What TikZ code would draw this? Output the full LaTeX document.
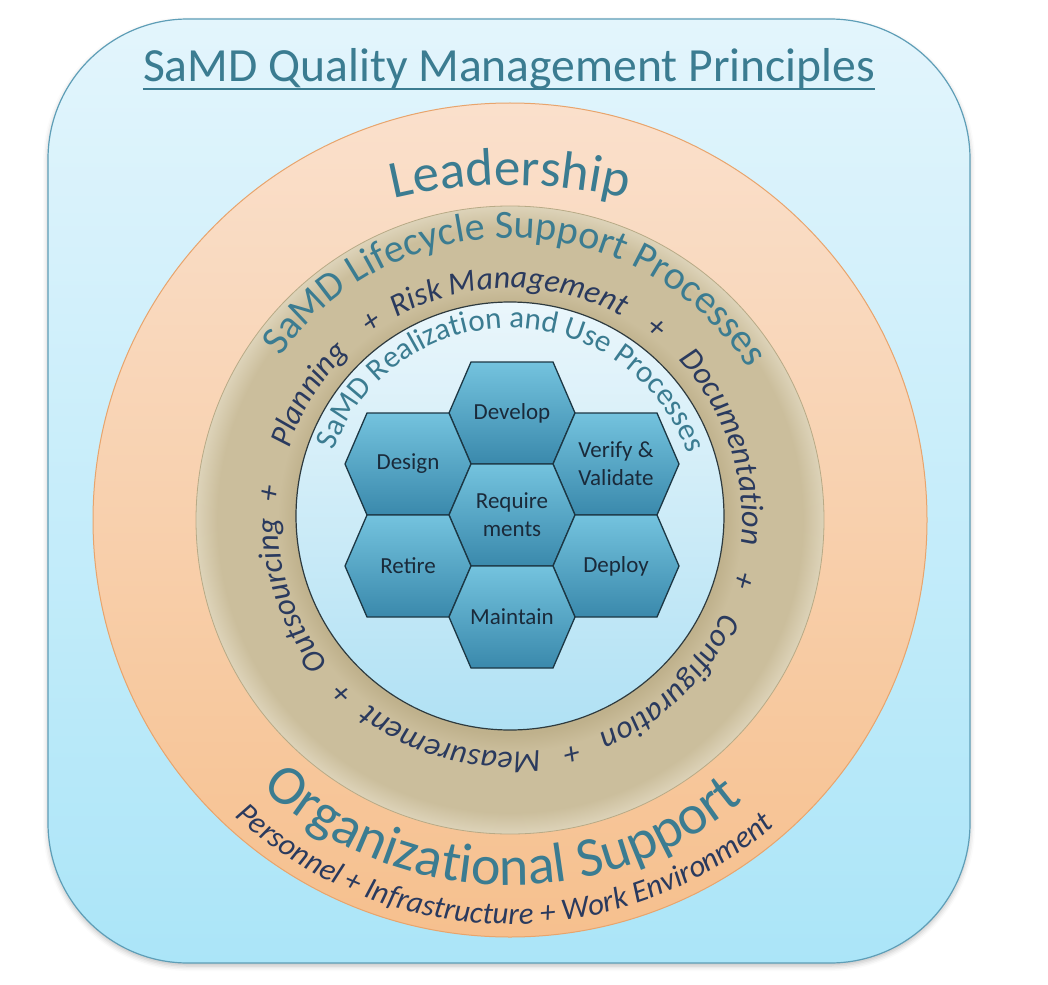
\documentclass[tikz,border=0pt]{standalone}
\usepackage{fontspec}
\setmainfont{Carlito}
\usetikzlibrary{decorations.text,shadows.blur}
\definecolor{boxtop}{HTML}{E3F5FC}
\definecolor{boxbot}{HTML}{ABE5F8}
\definecolor{boxline}{HTML}{5E9EB7}
\definecolor{ortop}{HTML}{FAE0CC}
\definecolor{orbot}{HTML}{F6C08E}
\definecolor{orline}{HTML}{E8A46C}
\definecolor{tanD}{HTML}{BFB18C}
\definecolor{tanM}{HTML}{CBBE9C}
\definecolor{tanL}{HTML}{DDD3B9}
\definecolor{tanedge}{HTML}{B8AA86}
\definecolor{intop}{HTML}{EAF6FB}
\definecolor{inbot}{HTML}{B0E1F4}
\definecolor{inline}{HTML}{2E3A3E}
\definecolor{hextop}{HTML}{74C3DE}
\definecolor{hexbot}{HTML}{3A89AC}
\definecolor{hexline}{HTML}{1C3744}
\definecolor{tealtxt}{HTML}{3B7C91}
\definecolor{navytxt}{HTML}{2A3A5E}
\definecolor{hextxt}{HTML}{1A2A3A}
% circle edge of a path corresponds to 25bp
\pgfdeclareradialshading{tanring}{\pgfpoint{0bp}{0bp}}{color(0bp)=(tanD); color(17bp)=(tanD); color(18.5bp)=(tanM); color(23.3bp)=(tanM); color(25bp)=(tanL); color(50bp)=(tanL)}
% clockwise text: center, radius, mid angle, half span, format, text
\newcommand\cwtext[6]{%
  \pgfmathsetmacro\angA{#3+#4}\pgfmathsetmacro\angB{#3-#4}%
  \path[decorate,decoration={text along path,text align=center,text={|#5|#6}}]
    (#1) ++(\angA:#2) arc[start angle=\angA, end angle=\angB, radius=#2];
}
% counter-clockwise text
\newcommand\ccwtext[6]{%
  \pgfmathsetmacro\angA{#3-#4}\pgfmathsetmacro\angB{#3+#4}%
  \path[decorate,decoration={text along path,text align=center,text={|#5|#6}}]
    (#1) ++(\angA:#2) arc[start angle=\angA, end angle=\angB, radius=#2];
}
\begin{document}
\begin{tikzpicture}[x=1pt,y=1pt,
  hexcell/.style={draw=hexline, line width=1.3pt, top color=hextop, bottom color=hexbot},
  hexlabel/.style={font=\fontsize{23}{28}\selectfont, text=hextxt, align=center, inner sep=0pt},
]
\useasboundingbox (0,0) rectangle (1048,-984);
\coordinate (C) at (510,-520);
\coordinate (Ci) at (510,-516);
\coordinate (L0) at (510,-685);
% outer box
\draw[draw=boxline, line width=1.2pt, top color=boxtop, bottom color=boxbot, rounded corners=140pt,
  blur shadow={shadow xshift=0pt, shadow yshift=-3pt, shadow blur radius=5pt, shadow opacity=25}]
  (48,-19) rectangle (970,-963);
% title
\node[font=\fontsize{47.6}{56}\selectfont, text=tealtxt, anchor=base, inner sep=0pt] (title) at (509,-82)
  {SaMD Quality Management Principles};
\draw[tealtxt, line width=2pt] ([yshift=-7pt]title.base west) -- ([yshift=-7pt]title.base east);
% rings
\draw[draw=orline, line width=1pt, top color=ortop, bottom color=orbot] (C) circle[radius=417];
\path[shading=tanring] (C) circle[radius=314];
\draw[tanedge, line width=0.8pt] (C) circle[radius=314];
\draw[draw=inline, line width=1.2pt, top color=intop, bottom color=inbot] (Ci) circle[radius=214];
% hexagons
\foreach \nm/\cx/\cy/\lab in {develop/512/413/Develop, design/408/464/Design,
   verify/616/464/{Verify \&\\Validate}, requirements/512/515/{Require\\ments},
   retire/408/566/Retire, deploy/616/566/Deploy, maintain/512/617/Maintain}{
  \draw[hexcell] (\cx,-\cy) ++(-63,0) -- ++(22,51) -- ++(82,0) -- ++(22,-51)
     -- ++(-22,-51) -- ++(-82,0) -- cycle;
  \node[hexlabel] (\nm) at (\cx,-\cy) {\lab};
}
% curved texts
\cwtext{L0}{500}{90}{20}{\color{tealtxt}\fontsize{53}{60}\selectfont}{Leadership}
\cwtext{C}{282}{88.5}{70}{\color{tealtxt}\fontsize{40}{48}\selectfont}{SaMD Lifecycle Support Processes}
\cwtext{Ci}{188}{89.5}{88}{\color{tealtxt}\fontsize{31}{37}\selectfont}{SaMD Realization and Use Processes}
\def\inner{\color{navytxt}\itshape\fontsize{32}{38}\selectfont}
\cwtext{C}{232}{148}{25}{\inner}{Planning}
\cwtext{C}{232}{90.3}{40}{\inner}{Risk Management}
\cwtext{C}{232}{18.8}{35}{\inner}{Documentation}
\cwtext{C}{232}{-45.5}{35}{\inner}{Configuration}
\cwtext{C}{232}{-105}{35}{\inner}{Measurement}
\cwtext{C}{232}{-161}{30}{\inner}{Outsourcing}
\foreach \a in {173.6,125,52.6,-14.6,-75,-134}{
  \cwtext{C}{232}{\a}{8}{\inner}{+}
}
\ccwtext{C}{365}{-91.5}{55}{\color{tealtxt}\fontsize{56}{64}\selectfont}{Organizational Support}
\ccwtext{C}{404}{-91}{60}{\color{navytxt}\itshape\fontsize{31}{37}\selectfont}{Personnel + Infrastructure + Work Environment}
\end{tikzpicture}
\end{document}
